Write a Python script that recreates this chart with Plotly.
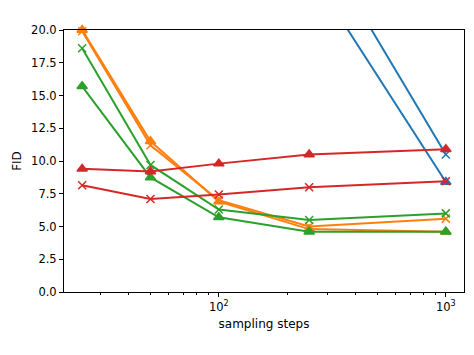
import plotly.graph_objects as go

steps = [25, 50, 100, 250, 1000]

blue_tri = [90.0, 60.0, 40.0, 24.6, 8.4]
blue_x = [95.0, 65.0, 45.0, 28.0, 10.5]
orange_tri = [20.0, 11.5, 6.9, 4.8, 4.6]
orange_x = [19.9, 11.2, 7.0, 5.0, 5.6]
green_tri = [15.7, 8.75, 5.7, 4.6, 4.6]
green_x = [18.6, 9.7, 6.3, 5.5, 6.0]
red_tri = [9.4, 9.2, 9.8, 10.5, 10.9]
red_x = [8.15, 7.1, 7.45, 8.0, 8.45]

series = [
    ("blue ▲", blue_tri, "#1f77b4", "triangle-up", True),
    ("blue ×", blue_x, "#1f77b4", "x-thin", True),
    ("orange ▲", orange_tri, "#ff7f0e", "triangle-up", False),
    ("orange ×", orange_x, "#ff7f0e", "x-thin", False),
    ("green ▲", green_tri, "#2ca02c", "triangle-up", False),
    ("green ×", green_x, "#2ca02c", "x-thin", False),
    ("red ▲", red_tri, "#d62728", "triangle-up", False),
    ("red ×", red_x, "#d62728", "x-thin", False),
]

fig = go.Figure()
for name, ys, col, sym, clip in series:
    fig.add_trace(go.Scatter(
        x=steps, y=ys, name=name, mode="lines+markers",
        line=dict(color=col, width=2),
        marker=dict(symbol=sym, size=9 if sym == "triangle-up" else 8, color=col,
                    line=dict(color=col, width=1.5)),
        cliponaxis=clip, showlegend=False))

font = dict(family="DejaVu Sans", size=11.5, color="#000")
fig.update_layout(
    width=466, height=347,
    margin=dict(l=52, r=9, t=22, b=63),
    plot_bgcolor="white", paper_bgcolor="white",
    font=font,
    xaxis=dict(
        type="log", range=[1.318, 3.08],
        tickvals=[100, 1000], ticktext=["10<sup>2</sup>", "10<sup>3</sup>"],
        ticks="outside", ticklen=4, tickcolor="#000",
        showgrid=False, zeroline=False,
        showline=True, linecolor="#000", linewidth=1, mirror=True,
        minor=dict(ticks="outside", ticklen=2, tickcolor="#000",
                   tickvals=[30, 40, 50, 60, 70, 80, 90, 200, 300, 400, 500, 600, 700, 800, 900],
                   showgrid=False),
        title=dict(text="sampling steps", font=dict(family="DejaVu Sans", size=12, color="#000"), standoff=6),
    ),
    yaxis=dict(
        range=[0, 20], tickvals=[0, 2.5, 5, 7.5, 10, 12.5, 15, 17.5, 20],
        tickformat=".1f",
        ticks="outside", ticklen=4, tickcolor="#000",
        showgrid=False, zeroline=False,
        showline=True, linecolor="#000", linewidth=1, mirror=True,
        title=dict(text="FID", font=dict(family="DejaVu Sans", size=12, color="#000"), standoff=6),
    ),
)
fig.write_html("out.html")
